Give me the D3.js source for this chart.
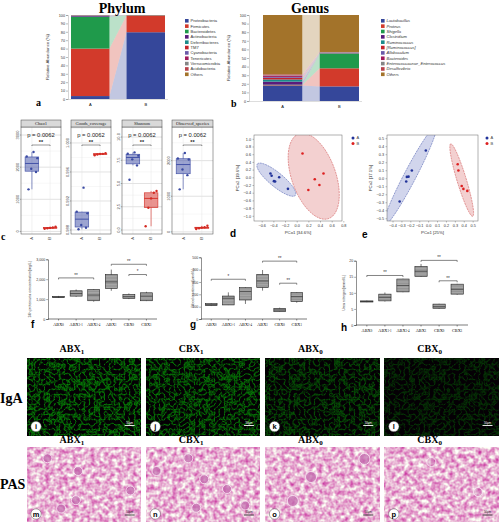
<!DOCTYPE html>
<html>
<head>
<meta charset="utf-8">
<script src="https://cdn.jsdelivr.net/npm/d3@7"></script>
<style>
body { margin: 0; background: #fff; }
svg { display: block; }
</style>
</head>
<body>
<div id="chart-area"></div>
<script>
// ---------- data ----------
var groups = ["A", "B"];

var phylumNames = ["Proteobacteria", "Firmicutes", "Bacteroidetes", "Actinobacteria", "Deferribacteres", "TM7",
  "Cyanobacteria", "Tenericutes", "Verrucomicrobia", "Acidobacteria", "Others"];
var phylumA = [3.5, 56.5, 38, 1, 0.3, 0.2, 0.1, 0.1, 0.1, 0.05, 0.15];
var phylumB = [79.5, 19.8, 0.3, 0.1, 0.05, 0.05, 0.05, 0.05, 0.03, 0.02, 0.05];

var genusNames = ["Lactobacillus", "Proteus", "Shigella", "Clostridium", "Ruminococcus", "[Ruminococcus]",
  "Allobaculum", "Bacteroides", "Enterococcaceae_Enterococcus", "Desulfovibrio", "Others"];
var genusA = [18, 0.5, 0.5, 3.5, 2.5, 2, 1, 1.5, 0.5, 1, 69];
var genusB = [17, 21, 17, 0.3, 0.3, 0.2, 0.3, 0.2, 0.5, 0.2, 43];

var taxaColors = ["#35479a", "#d23a2b", "#1f9a4b", "#5a1b7b", "#1b8b8b", "#c4232b",
  "#6b5aa9", "#a11b5b", "#858585", "#b8414b", "#a3732a"];

// alpha diversity (c)
var chao1A = [1310, 1850, 1950, 2280, 2330, 2470];
var chao1B = [80, 100, 110, 120, 150];
var goodsA = [0.9881, 0.98832, 0.98869, 0.9903, 0.99053, 0.99384];
var goodsB = [0.9983, 0.9984, 0.9985, 0.9985, 0.9986];
var shannonA = [5.4, 6.95, 7.6, 8.0, 8.2, 8.35];
var shannonB = [0.4, 2.4, 3.4, 4.0, 4.2];
var observedA = [1194, 1592, 1750, 2030, 2060, 2214];
var observedB = [80, 100, 120, 130, 170];
var pLabel = "p = 0.0062";

// PCoA (d, e)
var pcoaD_Ax = [-0.45, -0.43, -0.39, -0.37, -0.30, -0.15];
var pcoaD_Ay = [0.10, 0.04, -0.10, -0.11, 0.0, -0.30];
var pcoaD_Bx = [0.10, 0.31, 0.46, 0.39, 0.20];
var pcoaD_By = [0.62, -0.05, 0.10, -0.20, -0.33];
var pcoaE_Ax = [-0.32, -0.246, -0.239, -0.22, -0.183, -0.026];
var pcoaE_Ay = [-0.29, -0.04, 0.017, 0.02, 0.096, 0.346];
var pcoaE_Bx = [0.332, 0.34, 0.377, 0.396, 0.44];
var pcoaE_By = [0.175, 0.096, -0.096, -0.133, -0.158];

// kidney function boxes (f, g, h): [min, q1, median, q3, max]
var kidneyBase = ["ABX", "ABX", "ABX", "ABX", "CBX", "CBX"];
var kidneySub = ["0", "1-1", "1-4", "1", "0", "1"];
var proteinStats = [[1060, 1080, 1100, 1130, 1160], [1117, 1150, 1283, 1417, 1483], [870, 917, 1200, 1483, 1500],
  [1417, 1533, 1867, 2233, 2483], [1000, 1033, 1120, 1233, 1283], [900, 917, 1150, 1317, 1367]];
var creatinineStats = [[105, 108, 116, 124, 127], [113, 114, 168, 186, 216], [122, 154, 222, 254, 257],
  [230, 254, 308, 362, 397], [57, 59, 73, 86, 92], [132, 141, 181, 214, 216]];
var ureaStats = [[7.1, 7.15, 7.3, 7.5, 7.6], [7.3, 7.5, 8.6, 9.6, 10.1], [10.2, 10.3, 12.3, 14.3, 14.4],
  [15.0, 15.1, 16.7, 18.2, 19.0], [5.1, 5.2, 5.7, 6.5, 6.6], [9.4, 9.6, 11.1, 12.7, 12.8]];
// [from, to, height, stars]
var proteinSig = [[0, 2, 2065, "**"], [3, 5, 2750, "**"], [4, 5, 2235, "*"]];
var creatinineSig = [[0, 2, 322, "*"], [3, 5, 469, "**"], [4, 5, 290, "**"]];
var ureaSig = [[0, 2, 15.4, "**"], [3, 5, 20.1, "**"], [4, 5, 13.75, "**"]];

var microHeads1 = [["ABX", "1"], ["CBX", "1"], ["ABX", "0"], ["CBX", "0"]];
var microHeads2 = [["ABX", "1"], ["CBX", "1"], ["ABX", "0"], ["CBX", "0"]];

// ---------- setup ----------
var serif = "'Liberation Serif', 'Times New Roman', serif";
var svg = d3.select("#chart-area").append("svg")
  .attr("width", 500).attr("height", 522)
  .style("font-family", "'Liberation Sans', Arial, sans-serif");
var defs = svg.append("defs");

function styleAxis(ax, fs) {
  ax.selectAll("text").style("font-size", fs + "px").attr("fill", "#333");
  ax.selectAll("line").attr("stroke", "#555").attr("stroke-width", 0.4);
  ax.selectAll("path").attr("stroke", "#555").attr("stroke-width", 0.5);
}

function subText(sel, base, sub) {
  sel.append("tspan").text(base);
  sel.append("tspan").attr("dy", "0.3em").attr("font-size", "70%").text(sub);
}

function letter(x, y, t, fam) {
  svg.append("text").attr("x", x).attr("y", y).text(t)
    .style("font-size", "10px").style("font-weight", "bold")
    .style("font-family", fam || null);
}

function cumulative(vals) {
  var c = 0;
  return vals.map(function(v) { var s = [c, c + v]; c += v; return s; });
}

// ---------- a / b stacked bars ----------
function drawStacked(cfg) {
  var g = svg.append("g");
  var x = d3.scaleBand().domain(groups).range([cfg.x0, cfg.x1]).paddingInner(0.306);
  var y = d3.scaleLinear().domain([0, 100]).range([cfg.yBot, cfg.yTop]);
  var sa = cumulative(cfg.a), sb = cumulative(cfg.b);
  var xa = x("A") + x.bandwidth(), xb = x("B");

  g.selectAll("path.flow").data(cfg.names).enter().append("path")
    .attr("d", function(d, i) {
      return "M" + xa + "," + y(sa[i][0]) + "L" + xa + "," + y(sa[i][1]) +
        "L" + xb + "," + y(sb[i][1]) + "L" + xb + "," + y(sb[i][0]) + "Z";
    })
    .attr("fill", function(d, i) { return taxaColors[i]; })
    .attr("fill-opacity", 0.3);

  [["A", sa], ["B", sb]].forEach(function(p) {
    g.selectAll(null).data(p[1]).enter().append("rect")
      .attr("x", x(p[0])).attr("width", x.bandwidth())
      .attr("y", function(d) { return y(d[1]); })
      .attr("height", function(d) { return y(d[0]) - y(d[1]); })
      .attr("fill", function(d, i) { return taxaColors[i]; });
  });

  var ax = g.append("g").attr("transform", "translate(" + cfg.axisX + ",0)")
    .call(d3.axisLeft(y).ticks(10).tickSize(2).tickPadding(1));
  styleAxis(ax, 3.8);
  ax.select("path").attr("stroke", "#aaa");

  g.append("line").attr("x1", cfg.axisX).attr("x2", cfg.x1 + 3)
    .attr("y1", cfg.yBot + 0.5).attr("y2", cfg.yBot + 0.5)
    .attr("stroke", "#bbb").attr("stroke-width", 0.5);
  g.selectAll("text.grp").data(groups).enter().append("text")
    .attr("x", function(d) { return x(d) + x.bandwidth() / 2; })
    .attr("y", cfg.yBot + 6.5).attr("text-anchor", "middle")
    .style("font-size", "4px").text(function(d) { return d; });

  g.append("text")
    .attr("transform", "translate(" + (cfg.axisX - 19) + "," + ((cfg.yBot + cfg.yTop) / 2) + ") rotate(-90)")
    .attr("text-anchor", "middle").style("font-size", "4.3px").attr("fill", "#333")
    .text("Relative Abundance (%)");

  g.append("text").attr("x", cfg.titleX).attr("y", 13).attr("text-anchor", "middle")
    .style("font-family", serif).style("font-weight", "bold").style("font-size", "14px")
    .text(cfg.title);

  var leg = g.selectAll("g.leg").data(cfg.names).enter().append("g")
    .attr("transform", function(d, i) { return "translate(" + cfg.legX + "," + (cfg.legY + i * 5.35) + ")"; });
  leg.append("rect").attr("x", 0).attr("y", -2).attr("width", 3.6).attr("height", 3.6)
    .attr("fill", function(d, i) { return taxaColors[i]; });
  leg.append("text").attr("x", 5.5).attr("y", 1.2).style("font-size", "4.1px")
    .style("font-style", cfg.italic ? "italic" : "normal").attr("fill", "#333")
    .text(function(d) { return d; });
}

drawStacked({ names: phylumNames, a: phylumA, b: phylumB, x0: 71, x1: 165, yTop: 15, yBot: 99,
  axisX: 68, title: "Phylum", titleX: 122, legX: 185, legY: 21, italic: false });
drawStacked({ names: genusNames, a: genusA, b: genusB, x0: 263, x1: 359, yTop: 15, yBot: 101,
  axisX: 249, title: "Genus", titleX: 310, legX: 381, legY: 21, italic: true });
letter(36, 106, "a", serif);
letter(231, 107, "b", serif);

// ---------- c alpha diversity facets ----------
var facets = [
  { name: "Chao1", a: chao1A, b: chao1B, dom: [-80, 3250], ticks: [0, 1000, 2000, 3000], fmt: d3.format("d"), x0: 21, x1: 61 },
  { name: "Goods_coverage", a: goodsA, b: goodsB, dom: [0.98745, 1.0022], ticks: [0.988, 0.992, 0.996, 1.0], fmt: d3.format(".3f"), x0: 71, x1: 111 },
  { name: "Shannon", a: shannonA, b: shannonB, dom: [-0.43, 11.08], ticks: [0, 2.5, 5, 7.5, 10], fmt: d3.format(".1f"), x0: 122, x1: 162 },
  { name: "Observed_species", a: observedA, b: observedB, dom: [-60, 2944], ticks: [0, 1000, 2000], fmt: d3.format("d"), x0: 172, x1: 213 }
];
var jitterA = [-0.25, 0.3, -0.05, 0.4, -0.38, 0.12];
var jitterB = [-0.4, -0.2, 0.0, 0.2, 0.4];

function boxStats(vals) {
  var s = vals.slice().sort(d3.ascending);
  var q1 = d3.quantile(s, 0.25), med = d3.quantile(s, 0.5), q3 = d3.quantile(s, 0.75);
  var iqr = q3 - q1;
  var inside = s.filter(function(v) { return v >= q1 - 1.5 * iqr && v <= q3 + 1.5 * iqr; });
  return { q1: q1, med: med, q3: q3, lo: d3.min(inside), hi: d3.max(inside) };
}

function drawAlpha(f) {
  var g = svg.append("g");
  var top = 127, bot = 234;
  var y = d3.scaleLinear().domain(f.dom).range([bot, top]);
  var x = d3.scalePoint().domain(groups).range([f.x0, f.x1]).padding(0.6);
  var w = f.x1 - f.x0;

  var minors = [];
  var step = f.ticks[1] - f.ticks[0];
  for (var i = -1; i < f.ticks.length; i++) {
    var m = f.ticks[0] + (i + 0.5) * step;
    if (m > f.dom[0] && m < f.dom[1]) minors.push(m);
  }
  g.selectAll("line.minor").data(minors).enter().append("line")
    .attr("x1", f.x0).attr("x2", f.x1).attr("y1", y).attr("y2", y)
    .attr("stroke", "#ececec").attr("stroke-width", 0.4);
  g.selectAll("line.major").data(f.ticks).enter().append("line")
    .attr("x1", f.x0).attr("x2", f.x1).attr("y1", y).attr("y2", y)
    .attr("stroke", "#cfcfcf").attr("stroke-width", 0.6);
  g.selectAll("line.vmajor").data(groups).enter().append("line")
    .attr("x1", x).attr("x2", x).attr("y1", top).attr("y2", bot)
    .attr("stroke", "#e4e4e4").attr("stroke-width", 0.5);

  var bw = x.step() * 0.75;
  [["A", f.a, "#3a4aa3", jitterA], ["B", f.b, "#d42a22", jitterB]].forEach(function(p) {
    var st = boxStats(p[1]);
    var cx = x(p[0]);
    g.append("line").attr("x1", cx).attr("x2", cx).attr("y1", y(st.lo)).attr("y2", y(st.q1))
      .attr("stroke", p[2]).attr("stroke-width", 0.6);
    g.append("line").attr("x1", cx).attr("x2", cx).attr("y1", y(st.q3)).attr("y2", y(st.hi))
      .attr("stroke", p[2]).attr("stroke-width", 0.6);
    g.append("rect").attr("x", cx - bw / 2).attr("width", bw)
      .attr("y", y(st.q3)).attr("height", Math.max(0.6, y(st.q1) - y(st.q3)))
      .attr("fill", p[2]).attr("fill-opacity", 0.5).attr("stroke", p[2]).attr("stroke-width", 0.6);
    g.append("line").attr("x1", cx - bw / 2).attr("x2", cx + bw / 2)
      .attr("y1", y(st.med)).attr("y2", y(st.med)).attr("stroke", p[2]).attr("stroke-width", 0.9);
    g.selectAll(null).data(p[1]).enter().append("circle")
      .attr("cx", function(d, i) { return cx + p[3][i] * bw; })
      .attr("cy", y).attr("r", 1.2).attr("fill", p[2]);
  });

  g.append("rect").attr("x", f.x0).attr("y", top).attr("width", w).attr("height", bot - top)
    .attr("fill", "none").attr("stroke", "#444").attr("stroke-width", 0.5);
  g.append("rect").attr("x", f.x0).attr("y", 120).attr("width", w).attr("height", 7)
    .attr("fill", "#d9d9d9").attr("stroke", "#444").attr("stroke-width", 0.5);
  g.append("text").attr("x", f.x0 + w / 2).attr("y", 125.3).attr("text-anchor", "middle")
    .style("font-family", serif).style("font-size", "4.6px").attr("fill", "#222").text(f.name);

  g.append("text").attr("x", f.x0 + w / 2).attr("y", 136.5).attr("text-anchor", "middle")
    .style("font-size", "5.8px").attr("fill", "#222").text(pLabel);
  g.append("path")
    .attr("d", "M" + x("A") + "," + 146 + "V" + 145 + "H" + x("B") + "V" + 146)
    .attr("fill", "none").attr("stroke", "#333").attr("stroke-width", 0.5);
  g.append("text").attr("x", f.x0 + w / 2).attr("y", 143.5).attr("text-anchor", "middle")
    .style("font-size", "5.5px").style("font-weight", "bold").attr("fill", "#222").text("**");

  g.selectAll("text.yt").data(f.ticks).enter().append("text")
    .attr("transform", function(d) { return "translate(" + (f.x0 - 2.5) + "," + y(d) + ") rotate(-90)"; })
    .attr("text-anchor", "middle").style("font-size", "4px").attr("fill", "#444")
    .text(f.fmt);
  g.selectAll("line.yt").data(f.ticks).enter().append("line")
    .attr("x1", f.x0 - 1.2).attr("x2", f.x0).attr("y1", y).attr("y2", y)
    .attr("stroke", "#444").attr("stroke-width", 0.4);
  g.selectAll("text.xt").data(groups).enter().append("text")
    .attr("transform", function(d) { return "translate(" + (x(d) + 1.4) + "," + (bot + 3) + ") rotate(-90)"; })
    .attr("text-anchor", "end").style("font-size", "4.2px").attr("fill", "#444").text(function(d) { return d; });
}
facets.forEach(drawAlpha);
letter(1, 240, "c", serif);

// ---------- d / e PCoA ----------
function ellipsePath(xs, ys, x, y) {
  var n = xs.length, mx = d3.mean(xs), my = d3.mean(ys);
  var a = d3.variance(xs), c = d3.variance(ys);
  var b = d3.sum(xs.map(function(v, i) { return (v - mx) * (ys[i] - my); })) / (n - 1);
  var h = Math.sqrt(Math.pow((a - c) / 2, 2) + b * b);
  var l1 = (a + c) / 2 + h, l2 = (a + c) / 2 - h;
  var v1 = Math.abs(b) > 1e-12 ? [b, l1 - a] : [1, 0];
  var len = Math.hypot(v1[0], v1[1]);
  v1 = [v1[0] / len, v1[1] / len];
  var v2 = [-v1[1], v1[0]];
  var k = Math.sqrt(-2 * Math.log(1 - 0.99));
  var pts = d3.range(0, 101).map(function(j) {
    var t = j / 100 * 2 * Math.PI;
    var u = k * Math.sqrt(l1) * Math.cos(t), v = k * Math.sqrt(Math.max(l2, 0)) * Math.sin(t);
    return [x(mx + u * v1[0] + v * v2[0]), y(my + u * v1[1] + v * v2[1])];
  });
  return d3.line()(pts) + "Z";
}

function drawPcoa(p) {
  var g = svg.append("g");
  var x = d3.scaleLinear().domain(p.xdom).range([p.left, p.right]);
  var y = d3.scaleLinear().domain(p.ydom).range([p.bottom, p.top]);
  defs.append("clipPath").attr("id", p.id).append("rect")
    .attr("x", p.left).attr("y", p.top).attr("width", p.right - p.left).attr("height", p.bottom - p.top);
  var inner = g.append("g").attr("clip-path", "url(#" + p.id + ")");
  [[p.ax, p.ay, "#8c96d0", "#5666b3"], [p.bx, p.by, "#e08a8a", "#d15c5c"]].forEach(function(s) {
    inner.append("path").attr("d", ellipsePath(s[0], s[1], x, y))
      .attr("fill", s[2]).attr("fill-opacity", 0.4)
      .attr("stroke", s[3]).attr("stroke-width", 0.6).attr("stroke-dasharray", "2,0.8");
  });
  [[p.ax, p.ay, "#22339a"], [p.bx, p.by, "#dd2020"]].forEach(function(s) {
    inner.selectAll(null).data(s[0]).enter().append("circle")
      .attr("cx", function(d) { return x(d); })
      .attr("cy", function(d, i) { return y(s[1][i]); })
      .attr("r", 1.3).attr("fill", s[2]);
  });
  g.append("rect").attr("x", p.left).attr("y", p.top).attr("width", p.right - p.left).attr("height", p.bottom - p.top)
    .attr("fill", "none").attr("stroke", "#666").attr("stroke-width", 0.5);

  var ax = g.append("g").attr("transform", "translate(0," + p.bottom + ")")
    .call(d3.axisBottom(x).tickValues(p.xticks).tickFormat(d3.format(".1f")).tickSize(1.5).tickPadding(1.5));
  styleAxis(ax, 3.8);
  ax.select("path").remove();
  var ay = g.append("g").attr("transform", "translate(" + p.left + ",0)")
    .call(d3.axisLeft(y).tickValues(p.yticks).tickFormat(d3.format(".1f")).tickSize(1.5).tickPadding(1.5));
  styleAxis(ay, 3.8);
  ay.select("path").remove();

  g.append("text").attr("x", (p.left + p.right) / 2).attr("y", p.bottom + 13).attr("text-anchor", "middle")
    .style("font-size", "4.3px").attr("fill", "#333").text(p.xlab);
  g.append("text")
    .attr("transform", "translate(" + (p.left - 15) + "," + ((p.top + p.bottom) / 2) + ") rotate(-90)")
    .attr("text-anchor", "middle").style("font-size", "4.3px").attr("fill", "#333").text(p.ylab);

  var leg = g.selectAll("g.leg").data([["A", "#22339a"], ["B", "#dd2020"]]).enter().append("g")
    .attr("transform", function(d, i) { return "translate(" + p.legX + "," + (138 + i * 5.5) + ")"; });
  leg.append("circle").attr("r", 1.5).attr("fill", function(d) { return d[1]; });
  leg.append("text").attr("x", 3.5).attr("y", 1.4).style("font-size", "4px").attr("fill", "#444")
    .text(function(d) { return d[0]; });
}

drawPcoa({ id: "clipD", left: 254, right: 342, top: 135, bottom: 221,
  xdom: [-0.732, 0.777], ydom: [-1.135, 1.099],
  xticks: d3.range(-6, 9, 2).map(function(v) { return v / 10; }),
  yticks: d3.range(-10, 11, 2).map(function(v) { return v / 10; }),
  ax: pcoaD_Ax, ay: pcoaD_Ay, bx: pcoaD_Bx, by: pcoaD_By,
  xlab: "PCo1 [34.6%]", ylab: "PCo2 [19.6%]", legX: 353 });
drawPcoa({ id: "clipE", left: 387, right: 478, top: 135, bottom: 221,
  xdom: [-0.462, 0.56], ydom: [-0.534, 0.54],
  xticks: d3.range(-4, 6, 1).map(function(v) { return v / 10; }),
  yticks: d3.range(-5, 6, 1).map(function(v) { return v / 10; }),
  ax: pcoaE_Ax, ay: pcoaE_Ay, bx: pcoaE_Bx, by: pcoaE_By,
  xlab: "PCo1 [25%]", ylab: "PCo2 [17.1%]", legX: 487 });
letter(230, 237, "d");
letter(362, 238, "e");

// ---------- f / g / h boxes ----------
var hatch = defs.append("pattern").attr("id", "hatch").attr("patternUnits", "userSpaceOnUse")
  .attr("width", 4).attr("height", 1.6);
hatch.append("rect").attr("width", 4).attr("height", 1.6).attr("fill", "#a9a9a9");
hatch.append("rect").attr("width", 4).attr("height", 0.6).attr("fill", "#8a8a8a");

function drawKidney(k) {
  var g = svg.append("g");
  var x = d3.scalePoint().domain(d3.range(kidneyBase.length)).range([k.x0, k.x1]).padding(0.6);
  var y = d3.scaleLinear().domain(k.dom).range([k.bot, k.top]);
  var bw = x.step() * 0.68;

  g.selectAll("g.box").data(k.stats).enter().append("g").each(function(s, i) {
    var b = d3.select(this), cx = x(i);
    b.append("line").attr("x1", cx).attr("x2", cx).attr("y1", y(s[0])).attr("y2", y(s[4]))
      .attr("stroke", "#222").attr("stroke-width", 0.6);
    b.append("rect").attr("x", cx - bw / 2).attr("width", bw)
      .attr("y", y(s[3])).attr("height", Math.max(0.8, y(s[1]) - y(s[3])))
      .attr("fill", "url(#hatch)").attr("stroke", "#222").attr("stroke-width", 0.6);
    b.append("line").attr("x1", cx - bw / 2).attr("x2", cx + bw / 2).attr("y1", y(s[2])).attr("y2", y(s[2]))
      .attr("stroke", "#222").attr("stroke-width", 0.6);
  });

  g.selectAll("g.sig").data(k.sig).enter().append("g").each(function(s) {
    var b = d3.select(this), yy = y(s[2]);
    b.append("path").attr("d", "M" + x(s[0]) + "," + (yy + 1.5) + "V" + yy + "H" + x(s[1]) + "V" + (yy + 1.5))
      .attr("fill", "none").attr("stroke", "#333").attr("stroke-width", 0.6);
    b.append("text").attr("x", (x(s[0]) + x(s[1])) / 2).attr("y", yy - 1.2).attr("text-anchor", "middle")
      .style("font-size", "4.5px").attr("fill", "#333").text(s[3]);
  });

  var ay = g.append("g").attr("transform", "translate(" + k.x0 + ",0)")
    .call(d3.axisLeft(y).tickValues(k.ticks).tickSize(1.8).tickPadding(1));
  styleAxis(ay, 3.6);
  ay.selectAll("line,path").attr("stroke", "#222");
  g.append("line").attr("x1", k.x0).attr("x2", k.x1).attr("y1", k.bot).attr("y2", k.bot)
    .attr("stroke", "#222").attr("stroke-width", 0.6);
  g.selectAll("line.xt").data(kidneyBase).enter().append("line")
    .attr("x1", function(d, i) { return x(i); }).attr("x2", function(d, i) { return x(i); })
    .attr("y1", k.bot).attr("y2", k.bot + 1.5).attr("stroke", "#222").attr("stroke-width", 0.5);
  g.selectAll("text.xt").data(kidneyBase).enter().append("text")
    .attr("x", function(d, i) { return x(i); }).attr("y", k.bot + 6.5).attr("text-anchor", "middle")
    .style("font-family", serif).style("font-size", "4.3px")
    .each(function(d, i) { subText(d3.select(this), d, kidneySub[i]); });

  g.append("text")
    .attr("transform", "translate(" + k.labX + "," + ((k.top + k.bot) / 2) + ") rotate(-90)")
    .attr("text-anchor", "middle").style("font-size", "3.6px").attr("fill", "#333").text(k.label);
}

drawKidney({ stats: proteinStats, sig: proteinSig, dom: [0, 3000], ticks: [0, 1000, 2000, 3000],
  x0: 48, x1: 157, bot: 319, top: 259.3, labX: 31, label: "24h proteinuria concentration(mg/L)" });
drawKidney({ stats: creatinineStats, sig: creatinineSig, dom: [0, 500], ticks: [0, 100, 200, 300, 400, 500],
  x0: 201, x1: 307, bot: 319, top: 257.3, labX: 194, label: "Blood creatinine(umol/L)" });
drawKidney({ stats: ureaStats, sig: ureaSig, dom: [0, 20], ticks: [0, 5, 10, 15, 20],
  x0: 356, x1: 468, bot: 325, top: 260.7, labX: 345, label: "Urea nitrogen(mmol/L)" });
letter(31, 328, "f");
letter(190, 328, "g");
letter(341, 331, "h");

// ---------- i-p micrographs ----------
var cols = d3.scaleBand().domain(d3.range(4)).range([27, 498.5]).paddingInner(0.047);
var igaGlow = [1.0, 0.95, 0.65, 0.42];
var igaLetters = ["i", "j", "k", "l"];
var pasLetters = ["m", "n", "o", "p"];
var glomeruli = [
  [[0.18, 0.15], [0.45, 0.32], [0.43, 0.71], [0.30, 0.82], [0.91, 0.58]],
  [[0.37, 0.15], [0.09, 0.32], [0.51, 0.43], [0.71, 0.56], [0.44, 0.81], [0.87, 0.78]],
  [[0.40, 0.40], [0.24, 0.72], [0.87, 0.16]],
  [[0.41, 0.2], [0.82, 0.6]]
];

function headers(list, yBase) {
  svg.selectAll(null).data(list).enter().append("text")
    .attr("x", function(d, i) { return cols(i) + cols.bandwidth() / 2 - 12; })
    .attr("y", yBase).attr("text-anchor", "middle")
    .style("font-family", serif).style("font-weight", "bold").style("font-size", "10px")
    .each(function(d) { subText(d3.select(this), d[0], d[1]); });
}
headers(microHeads1, 352);
headers(microHeads2, 443);

function roundLabel(x, y, t) {
  svg.append("circle").attr("cx", x).attr("cy", y).attr("r", 5.2).attr("fill", "#fff")
    .attr("stroke", "#333").attr("stroke-width", 0.4);
  svg.append("text").attr("x", x).attr("y", y + 2.6).attr("text-anchor", "middle")
    .style("font-size", "7.5px").style("font-weight", "bold").text(t);
}
function scaleBar(x, y, col) {
  svg.append("text").attr("x", x).attr("y", y).attr("text-anchor", "middle")
    .style("font-size", "2.8px").attr("fill", col).text("50μm");
  svg.append("line").attr("x1", x - 5).attr("x2", x + 5).attr("y1", y + 2).attr("y2", y + 2)
    .attr("stroke", col).attr("stroke-width", 0.9);
}

igaGlow.forEach(function(gl, i) {
  var f = defs.append("filter").attr("id", "iga" + i).attr("x", 0).attr("y", 0).attr("width", 1).attr("height", 1)
    .attr("color-interpolation-filters", "sRGB");
  f.append("feTurbulence").attr("type", "turbulence").attr("baseFrequency", 0.2)
    .attr("numOctaves", 2).attr("seed", i * 7 + 3).attr("result", "t");
  f.append("feColorMatrix").attr("in", "t").attr("type", "matrix")
    .attr("values", "0 0 0 0 0.02  " + (-1.5 * gl) + " 0 0 0 " + (0.5 * gl) + "  0 0 0 0 0.02  0 0 0 0 1");
  var x0 = cols(i), y0 = 358, w = cols.bandwidth(), h = 77.5;
  svg.append("rect").attr("x", x0).attr("y", y0).attr("width", w).attr("height", h).attr("fill", "#021002");
  svg.append("rect").attr("x", x0).attr("y", y0).attr("width", w).attr("height", h)
    .attr("filter", "url(#iga" + i + ")");
  roundLabel(x0 + 9, y0 + h - 9, igaLetters[i]);
  scaleBar(x0 + w - 11, y0 + h - 12, "#fff");
});

pasLetters.forEach(function(lt, i) {
  var f = defs.append("filter").attr("id", "pas" + i).attr("x", 0).attr("y", 0).attr("width", 1).attr("height", 1)
    .attr("color-interpolation-filters", "sRGB");
  f.append("feTurbulence").attr("type", "fractalNoise").attr("baseFrequency", 0.22)
    .attr("numOctaves", 2).attr("seed", i * 5 + 11).attr("result", "t");
  f.append("feColorMatrix").attr("in", "t").attr("type", "matrix")
    .attr("values", "0.3 0 0 0 0.76  1.2 0 0 0 0.1  0.5 0 0 0 0.58  0 0 0 0 1");
  var x0 = cols(i), y0 = 447, w = cols.bandwidth(), h = 75;
  svg.append("rect").attr("x", x0).attr("y", y0).attr("width", w).attr("height", h)
    .attr("filter", "url(#pas" + i + ")");
  svg.selectAll(null).data(glomeruli[i]).enter().append("circle")
    .attr("cx", function(d) { return x0 + d[0] * w; })
    .attr("cy", function(d) { return y0 + d[1] * h; })
    .attr("r", i === 2 ? 5.5 : 4.5).attr("fill", "#c068ac").attr("fill-opacity", i === 3 ? 0.3 : 0.7)
    .attr("stroke", "#fbeef6").attr("stroke-width", 0.8);
  roundLabel(x0 + 9, y0 + h - 8, lt);
  scaleBar(x0 + w - 11, y0 + h - 9, "#333");
});

svg.append("text").attr("x", 0).attr("y", 403).style("font-family", serif)
  .style("font-weight", "bold").style("font-size", "14px").text("IgA");
svg.append("text").attr("x", 0).attr("y", 489).style("font-family", serif)
  .style("font-weight", "bold").style("font-size", "14px").text("PAS");
</script>
</body>
</html>
